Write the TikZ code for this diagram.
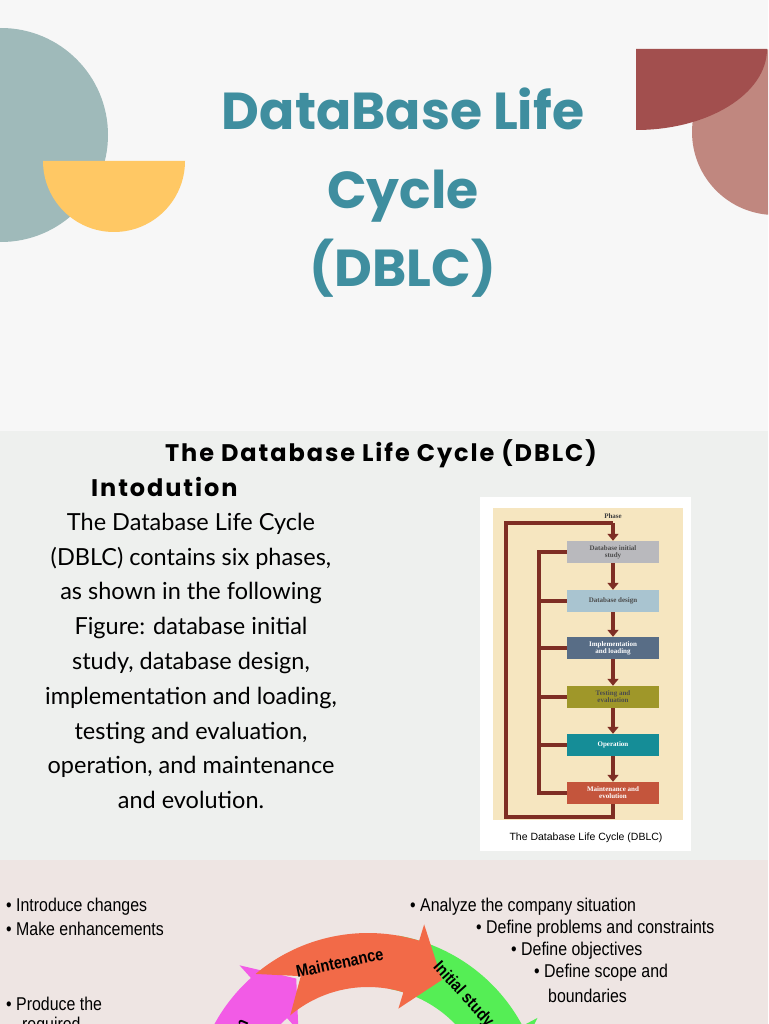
\documentclass[tikz,border=0pt]{standalone}
\usepackage{fontspec}
\setmainfont{Lato}
\newfontfamily\titlefont{Poppins}
\newfontfamily\headfont{Poppins}[LetterSpace=8]
\newfontfamily\arialf{Liberation Sans}
\newfontfamily\narrowf{Liberation Sans}[FakeStretch=0.86]
\newfontfamily\serf{Liberation Serif}
\usetikzlibrary{arrows.meta}
\definecolor{bgA}{HTML}{F7F7F7}
\definecolor{bgB}{HTML}{EEF0EE}
\definecolor{bgC}{HTML}{EEE5E3}
\definecolor{tealc}{HTML}{9FBABA}
\definecolor{yell}{HTML}{FFC864}
\definecolor{dred}{HTML}{A24F4E}
\definecolor{pinkc}{HTML}{C0877F}
\definecolor{titc}{HTML}{3F8E9F}
\definecolor{beige}{HTML}{F6E6C0}
\definecolor{lnc}{HTML}{7E2E24}
\definecolor{b1}{HTML}{B9B9BD}
\definecolor{b2}{HTML}{A9C4D0}
\definecolor{b3}{HTML}{586D86}
\definecolor{b4}{HTML}{9F9729}
\definecolor{b5}{HTML}{158D97}
\definecolor{b6}{HTML}{C4553C}
\definecolor{segM}{HTML}{F25BE6}
\definecolor{segO}{HTML}{F26A48}
\definecolor{segG}{HTML}{55EE55}
\definecolor{segR}{HTML}{F03C3C}
\tikzset{
  phase/.style={minimum width=92pt,minimum height=22pt,inner sep=1pt,align=center,font=\serf\bfseries\fontsize{7}{7}\selectfont},
  flow/.style={draw=lnc,line width=3.5pt},
  farr/.style={flow,-{Triangle[length=7pt,width=11pt]}},
  bul/.style={anchor=west,font=\narrowf\fontsize{18.5}{20}\selectfont,inner sep=0pt},
  arrtxt/.style={font=\narrowf\bfseries\fontsize{17}{17}\selectfont,text=black}
}
\newcommand{\ringseg}[3]{% a1 a2 color
  \fill[#3] (#1:175) arc[start angle=#1,end angle=#2,radius=175] -- (#2:192) -- (#2-13:148) -- (#2:104) -- (#2:121) arc[start angle=#2,end angle=#1,radius=121] -- (#1-13:148) -- cycle;
}
\begin{document}
\begin{tikzpicture}[x=1pt,y=-1pt]
\useasboundingbox (0,0) rectangle (768,1024);
\fill[bgA] (0,0) rectangle (768,431);
\fill[bgB] (0,431) rectangle (768,860);
\fill[bgC] (0,860) rectangle (768,1024);
\begin{scope}
\clip (0,0) rectangle (768,431);
\fill[tealc] (1,135) circle[radius=107];
\fill[yell] (43,161) arc[start angle=180,end angle=0,radius=71] -- cycle;
\fill[pinkc] (775,132) circle[radius=83];
\fill[dred] (636,49) -- (767,49) arc[start angle=0,end angle=90,x radius=131,y radius=81] -- cycle;
\end{scope}
\node[font=\titlefont\bfseries\fontsize{52}{78.5}\selectfont,text=titc,align=center] (title) at (403,193) {DataBase Life\\Cycle\\(DBLC)};
\node[font=\headfont\bfseries\fontsize{24}{24}\selectfont] (head) at (381,454) {The Database Life Cycle (DBLC)};
\node[font=\headfont\bfseries\fontsize{24}{24}\selectfont,anchor=west,inner sep=0pt] (intro) at (91,487) {Intodution};
\node[font=\fontsize{23.5}{34.8}\selectfont,align=center] (body) at (191,661) {The Database Life Cycle\\(DBLC) contains six phases,\\as shown in the following\\Figure: database initial\\study, database design,\\implementation and loading,\\testing and evaluation,\\operation, and maintenance\\and evolution.};
\fill[white] (480,497) rectangle (691,851);
\fill[beige] (493,508) rectangle (683,820);
\node[font=\serf\bfseries\fontsize{7}{7}\selectfont,text=black!75] (ph) at (613,516) {Phase};
\node[phase,fill=b1,text=black!70] (p1) at (613,552) {Database initial\\study};
\node[phase,fill=b2,text=black!70] (p2) at (613,601) {Database design};
\node[phase,fill=b3,text=white] (p3) at (613,648) {Implementation\\and loading};
\node[phase,fill=b4,text=black!70] (p4) at (613,697) {Testing and\\evaluation};
\node[phase,fill=b5,text=white] (p5) at (613,745) {Operation};
\node[phase,fill=b6,text=white] (p6) at (613,793) {Maintenance and\\evolution};
\foreach \a/\b in {p1/p2,p2/p3,p3/p4,p4/p5,p5/p6} \draw[farr] (\a) -- (\b);
\coordinate (ob) at (p6.south |- 0,817);
\coordinate (otop) at (p1.north |- 0,523);
\draw[flow] (p6.south) -- (ob) -- (506,817) -- (506,523) -- (otop);
\draw[farr] (otop) -- (p1.north);
\draw[flow] (p1.west) -- (539,552) -- (539,793) -- (p6.west);
\foreach \p in {p2,p3,p4,p5} \draw[flow] (539,0 |- \p.west) -- (\p.west);
\node[font=\arialf\fontsize{10.5}{12}\selectfont] (cap) at (586,838) {The Database Life Cycle (DBLC)};
\begin{scope}
\clip (0,860) rectangle (768,1024);
\begin{scope}[shift={(368,1108)},yscale=-1]
\ringseg{-5}{-60}{segR}
\ringseg{80}{28}{segG}
\ringseg{200}{132}{segM}
\ringseg{130}{73}{segO}
\node[arrtxt,rotate=12] (mt) at (101:148) {Maintenance};
\node[arrtxt,rotate=-48] (is) at (50:148) {Initial study};
\node[arrtxt,rotate=66] (op) at (158:148) {Operation};
\end{scope}
\node[bul] (l1) at (6,907) {•\ Introduce changes};
\node[bul] (l2) at (6,929) {•\ Make enhancements};
\node[bul] (l3) at (6,1004) {•\ Produce the};
\node[bul] (l4) at (22,1026) {required};
\node[bul] (r1) at (410,907) {•\ Analyze the company situation};
\node[bul] (r2) at (476,929) {•\ Define problems and constraints};
\node[bul] (r3) at (511,951) {•\ Define objectives};
\node[bul] (r4) at (534,973) {•\ Define scope and};
\node[bul] (r5) at (548,996) {boundaries};
\end{scope}
\end{tikzpicture}
\end{document}
